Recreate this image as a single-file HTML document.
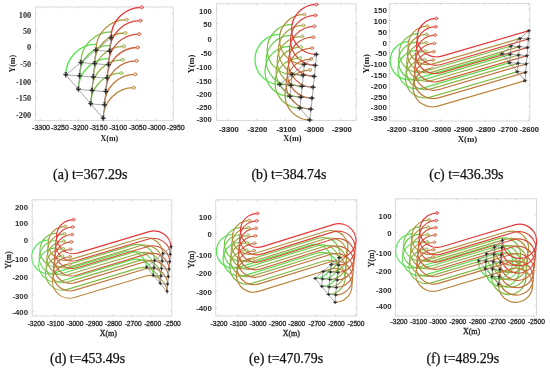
<!DOCTYPE html>
<html><head><meta charset="utf-8"><title>Formation trajectories</title>
<style>html,body{margin:0;padding:0;background:#fff;}svg{display:block;filter:blur(0.4px);}</style></head>
<body>
<svg width="550" height="370" viewBox="0 0 550 370">
<rect width="550" height="370" fill="#fff"/>
<g id="panel-a">
<clipPath id="clip-a"><rect x="33.1" y="4.5" width="142.6" height="118.6"/></clipPath>
<rect x="35.6" y="7" width="137.6" height="113.6" fill="none" stroke="#d6d6d6" stroke-width="0.9"/>
<path d="M40.2 120.6v-1.6M40.2 7v1.6M59.1 120.6v-1.6M59.1 7v1.6M78.6 120.6v-1.6M78.6 7v1.6M97.8 120.6v-1.6M97.8 7v1.6M117.3 120.6v-1.6M117.3 7v1.6M136.9 120.6v-1.6M136.9 7v1.6M155.8 120.6v-1.6M155.8 7v1.6M35.6 13.7h1.6M173.2 13.7h-1.6M35.6 30.6h1.6M173.2 30.6h-1.6M35.6 45.9h1.6M173.2 45.9h-1.6M35.6 63.6h1.6M173.2 63.6h-1.6M35.6 80.7h1.6M173.2 80.7h-1.6M35.6 97.4h1.6M173.2 97.4h-1.6M35.6 114.1h1.6M173.2 114.1h-1.6" stroke="#c4c4c4" stroke-width="0.7" fill="none"/>
<g clip-path="url(#clip-a)" fill="none" stroke-width="1.3" stroke-linecap="round">
<defs><path id="lp-a" d="M96.5 44.2A30.7 30.7 0 0 0 65.8 74.9"/><path id="pl-a" d="M0 2.5L0.6 0.8L2.3 -0.1L2.3 -0.8L0.6 -0.4L0.4 -1.8L1.1 -2.2L1.1 -2.6L0 -2.4L-1.1 -2.6L-1.1 -2.2L-0.4 -1.8L-0.6 -0.4L-2.3 -0.8L-2.3 -0.1L-0.6 0.8Z"/></defs>
<use href="#lp-a" x="0" y="0" stroke="#50e650"/>
<use href="#lp-a" x="12.5" y="14.5" stroke="#5cdb4d"/>
<use href="#lp-a" x="13.8" y="1.1" stroke="#69d14a"/>
<use href="#lp-a" x="15.1" y="-12.3" stroke="#76c648"/>
<use href="#lp-a" x="24.9" y="29" stroke="#82bc45"/>
<use href="#lp-a" x="26.2" y="15.6" stroke="#8fb242"/>
<use href="#lp-a" x="27.5" y="2.2" stroke="#9ca740"/>
<use href="#lp-a" x="28.8" y="-11.2" stroke="#a89d3d"/>
<use href="#lp-a" x="30.1" y="-24.6" stroke="#b2913b"/>
<use href="#lp-a" x="37.4" y="43.5" stroke="#b9853b"/>
<use href="#lp-a" x="38.7" y="30.1" stroke="#c0783b"/>
<use href="#lp-a" x="40" y="16.7" stroke="#c76b3b"/>
<use href="#lp-a" x="41.3" y="3.3" stroke="#ce5f3a"/>
<use href="#lp-a" x="42.6" y="-10.1" stroke="#d5523a"/>
<use href="#lp-a" x="43.9" y="-23.5" stroke="#dc453a"/>
<use href="#lp-a" x="45.2" y="-36.9" stroke="#e3393a"/>
<circle cx="121.4" cy="73.2" r="1.6" stroke="#82bc45" stroke-width="0.75" fill="#fff"/>
<circle cx="121.4" cy="73.2" r="1.6" stroke="none" fill="#82bc45" fill-opacity="0.28"/>
<circle cx="122.7" cy="59.8" r="1.6" stroke="#8fb242" stroke-width="0.75" fill="#fff"/>
<circle cx="122.7" cy="59.8" r="1.6" stroke="none" fill="#8fb242" fill-opacity="0.28"/>
<circle cx="124" cy="46.4" r="1.6" stroke="#9ca740" stroke-width="0.75" fill="#fff"/>
<circle cx="124" cy="46.4" r="1.6" stroke="none" fill="#9ca740" fill-opacity="0.28"/>
<circle cx="125.3" cy="33" r="1.6" stroke="#a89d3d" stroke-width="0.75" fill="#fff"/>
<circle cx="125.3" cy="33" r="1.6" stroke="none" fill="#a89d3d" fill-opacity="0.28"/>
<circle cx="126.6" cy="19.6" r="1.6" stroke="#b2913b" stroke-width="0.75" fill="#fff"/>
<circle cx="126.6" cy="19.6" r="1.6" stroke="none" fill="#b2913b" fill-opacity="0.28"/>
<circle cx="133.9" cy="87.7" r="1.6" stroke="#b9853b" stroke-width="0.75" fill="#fff"/>
<circle cx="133.9" cy="87.7" r="1.6" stroke="none" fill="#b9853b" fill-opacity="0.28"/>
<circle cx="135.2" cy="74.3" r="1.6" stroke="#c0783b" stroke-width="0.75" fill="#fff"/>
<circle cx="135.2" cy="74.3" r="1.6" stroke="none" fill="#c0783b" fill-opacity="0.28"/>
<circle cx="136.5" cy="60.9" r="1.6" stroke="#c76b3b" stroke-width="0.75" fill="#fff"/>
<circle cx="136.5" cy="60.9" r="1.6" stroke="none" fill="#c76b3b" fill-opacity="0.28"/>
<circle cx="137.8" cy="47.5" r="1.6" stroke="#ce5f3a" stroke-width="0.75" fill="#fff"/>
<circle cx="137.8" cy="47.5" r="1.6" stroke="none" fill="#ce5f3a" fill-opacity="0.28"/>
<circle cx="139.1" cy="34.1" r="1.6" stroke="#d5523a" stroke-width="0.75" fill="#fff"/>
<circle cx="139.1" cy="34.1" r="1.6" stroke="none" fill="#d5523a" fill-opacity="0.28"/>
<circle cx="140.4" cy="20.7" r="1.6" stroke="#dc453a" stroke-width="0.75" fill="#fff"/>
<circle cx="140.4" cy="20.7" r="1.6" stroke="none" fill="#dc453a" fill-opacity="0.28"/>
<circle cx="141.7" cy="7.3" r="1.6" stroke="#e3393a" stroke-width="0.75" fill="#fff"/>
<circle cx="141.7" cy="7.3" r="1.6" stroke="none" fill="#e3393a" fill-opacity="0.28"/>
<path d="M65.8 74.9L79.6 76M65.8 74.9L80.9 62.6M65.8 74.9L78.3 89.4M78.3 89.4L92 90.5M78.3 89.4L79.6 76M78.3 89.4L90.7 103.9M79.6 76L93.3 77.1M79.6 76L80.9 62.6M80.9 62.6L94.6 63.7M80.9 62.6L95.9 50.3M90.7 103.9L104.5 105M90.7 103.9L92 90.5M90.7 103.9L103.2 118.4M92 90.5L105.8 91.6M92 90.5L93.3 77.1M93.3 77.1L107.1 78.2M93.3 77.1L94.6 63.7M94.6 63.7L108.4 64.8M94.6 63.7L95.9 50.3M95.9 50.3L109.7 51.4M95.9 50.3L111 38M103.2 118.4L104.5 105M104.5 105L105.8 91.6M105.8 91.6L107.1 78.2M107.1 78.2L108.4 64.8M108.4 64.8L109.7 51.4M109.7 51.4L111 38" stroke="#888" stroke-width="0.75"/>
<use href="#pl-a" transform="translate(65.8,74.9) rotate(0)" fill="#222" stroke="#222" stroke-width="0.35" stroke-linejoin="round"/>
<use href="#pl-a" transform="translate(78.3,89.4) rotate(0)" fill="#222" stroke="#222" stroke-width="0.35" stroke-linejoin="round"/>
<use href="#pl-a" transform="translate(79.6,76) rotate(0)" fill="#222" stroke="#222" stroke-width="0.35" stroke-linejoin="round"/>
<use href="#pl-a" transform="translate(80.9,62.6) rotate(0)" fill="#222" stroke="#222" stroke-width="0.35" stroke-linejoin="round"/>
<use href="#pl-a" transform="translate(90.7,103.9) rotate(0)" fill="#222" stroke="#222" stroke-width="0.35" stroke-linejoin="round"/>
<use href="#pl-a" transform="translate(92,90.5) rotate(0)" fill="#222" stroke="#222" stroke-width="0.35" stroke-linejoin="round"/>
<use href="#pl-a" transform="translate(93.3,77.1) rotate(0)" fill="#222" stroke="#222" stroke-width="0.35" stroke-linejoin="round"/>
<use href="#pl-a" transform="translate(94.6,63.7) rotate(0)" fill="#222" stroke="#222" stroke-width="0.35" stroke-linejoin="round"/>
<use href="#pl-a" transform="translate(95.9,50.3) rotate(0)" fill="#222" stroke="#222" stroke-width="0.35" stroke-linejoin="round"/>
<use href="#pl-a" transform="translate(103.2,118.4) rotate(0)" fill="#222" stroke="#222" stroke-width="0.35" stroke-linejoin="round"/>
<use href="#pl-a" transform="translate(104.5,105) rotate(0)" fill="#222" stroke="#222" stroke-width="0.35" stroke-linejoin="round"/>
<use href="#pl-a" transform="translate(105.8,91.6) rotate(0)" fill="#222" stroke="#222" stroke-width="0.35" stroke-linejoin="round"/>
<use href="#pl-a" transform="translate(107.1,78.2) rotate(0)" fill="#222" stroke="#222" stroke-width="0.35" stroke-linejoin="round"/>
<use href="#pl-a" transform="translate(108.4,64.8) rotate(0)" fill="#222" stroke="#222" stroke-width="0.35" stroke-linejoin="round"/>
<use href="#pl-a" transform="translate(109.7,51.4) rotate(0)" fill="#222" stroke="#222" stroke-width="0.35" stroke-linejoin="round"/>
<use href="#pl-a" transform="translate(111,38) rotate(0)" fill="#222" stroke="#222" stroke-width="0.35" stroke-linejoin="round"/>
</g>
<g font-family="'Liberation Sans', sans-serif" font-size="7" font-weight="normal" fill="#2a2a2a" stroke="#2a2a2a" stroke-width="0.3" text-anchor="middle">
<text x="41" y="130.1">-3300</text>
<text x="59.9" y="130.1">-3250</text>
<text x="79.4" y="130.1">-3200</text>
<text x="98.6" y="130.1">-3150</text>
<text x="118.1" y="130.1">-3100</text>
<text x="137.7" y="130.1">-3050</text>
<text x="156.6" y="130.1">-3000</text>
<text x="175.8" y="130.1">-2950</text>
</g>
<g font-family="'Liberation Serif', serif" font-weight="bold" font-size="8.3" fill="#2a2a2a" text-anchor="end">
<text x="31.2" y="17.5">100</text>
<text x="31.2" y="34.4">50</text>
<text x="31.2" y="49.7">0</text>
<text x="31.2" y="67.4">-50</text>
<text x="31.2" y="84.5">-100</text>
<text x="31.2" y="101.2">-150</text>
<text x="31.2" y="117.9">-200</text>
</g>
<text x="109.4" y="141.3" font-family="'Liberation Serif', serif" font-weight="bold" font-size="8" fill="#222" stroke="#222" stroke-width="0.0" text-anchor="middle">X(m)</text>
<text transform="translate(14.8,63.7) rotate(-90)" font-family="'Liberation Serif', serif" font-weight="bold" font-size="8" fill="#222" stroke="#222" stroke-width="0.0" text-anchor="middle">Y(m)</text>
<text x="90.2" y="179.4" font-family="'Liberation Serif', serif" font-size="13.9" fill="#111" stroke="#111" stroke-width="0.25" text-anchor="middle">(a) t=367.29s</text>
</g>
<g id="panel-b">
<clipPath id="clip-b"><rect x="214.1" y="1.3" width="144.6" height="121.7"/></clipPath>
<rect x="216.6" y="3.8" width="139.6" height="116.7" fill="none" stroke="#d6d6d6" stroke-width="0.9"/>
<path d="M228.1 120.5v-1.6M228.1 3.8v1.6M256.6 120.5v-1.6M256.6 3.8v1.6M285.5 120.5v-1.6M285.5 3.8v1.6M313.4 120.5v-1.6M313.4 3.8v1.6M341.1 120.5v-1.6M341.1 3.8v1.6M216.6 9.9h1.6M356.2 9.9h-1.6M216.6 23.6h1.6M356.2 23.6h-1.6M216.6 37.9h1.6M356.2 37.9h-1.6M216.6 51.7h1.6M356.2 51.7h-1.6M216.6 65.8h1.6M356.2 65.8h-1.6M216.6 79.7h1.6M356.2 79.7h-1.6M216.6 93.1h1.6M356.2 93.1h-1.6M216.6 105.9h1.6M356.2 105.9h-1.6M216.6 118.6h1.6M356.2 118.6h-1.6" stroke="#c4c4c4" stroke-width="0.7" fill="none"/>
<g clip-path="url(#clip-b)" fill="none" stroke-width="1.25" stroke-linecap="round">
<defs><path id="lp-b" d="M280 34.4A25 25 0 0 0 255 59.4A25 25 0 0 0 280 84.4"/><path id="pl-b" d="M0 2.3L0.6 0.7L2.1 -0.1L2.1 -0.7L0.5 -0.4L0.4 -1.6L1 -2L1 -2.4L0 -2.2L-1 -2.4L-1 -2L-0.4 -1.6L-0.5 -0.4L-2.1 -0.7L-2.1 -0.1L-0.6 0.7Z"/></defs>
<use href="#lp-b" x="0" y="0" stroke="#50e650"/>
<use href="#lp-b" x="10" y="11.9" stroke="#5cdb4d"/>
<use href="#lp-b" x="11.1" y="0.9" stroke="#69d14a"/>
<use href="#lp-b" x="12.2" y="-10" stroke="#76c648"/>
<use href="#lp-b" x="20" y="23.7" stroke="#82bc45"/>
<use href="#lp-b" x="21.1" y="12.8" stroke="#8fb242"/>
<use href="#lp-b" x="22.2" y="1.9" stroke="#9ca740"/>
<use href="#lp-b" x="23.3" y="-9.1" stroke="#a89d3d"/>
<use href="#lp-b" x="24.4" y="-20" stroke="#b2913b"/>
<use href="#lp-b" x="30" y="35.6" stroke="#b9853b"/>
<use href="#lp-b" x="31.1" y="24.6" stroke="#c0783b"/>
<use href="#lp-b" x="32.2" y="13.7" stroke="#c76b3b"/>
<use href="#lp-b" x="33.3" y="2.8" stroke="#ce5f3a"/>
<use href="#lp-b" x="34.4" y="-8.1" stroke="#d5523a"/>
<use href="#lp-b" x="35.5" y="-19.1" stroke="#dc453a"/>
<use href="#lp-b" x="36.6" y="-30" stroke="#e3393a"/>
<circle cx="300" cy="58.1" r="1.5" stroke="#82bc45" stroke-width="0.75" fill="#fff"/>
<circle cx="300" cy="58.1" r="1.5" stroke="none" fill="#82bc45" fill-opacity="0.28"/>
<circle cx="301.1" cy="47.2" r="1.5" stroke="#8fb242" stroke-width="0.75" fill="#fff"/>
<circle cx="301.1" cy="47.2" r="1.5" stroke="none" fill="#8fb242" fill-opacity="0.28"/>
<circle cx="302.2" cy="36.3" r="1.5" stroke="#9ca740" stroke-width="0.75" fill="#fff"/>
<circle cx="302.2" cy="36.3" r="1.5" stroke="none" fill="#9ca740" fill-opacity="0.28"/>
<circle cx="303.3" cy="25.3" r="1.5" stroke="#a89d3d" stroke-width="0.75" fill="#fff"/>
<circle cx="303.3" cy="25.3" r="1.5" stroke="none" fill="#a89d3d" fill-opacity="0.28"/>
<circle cx="304.4" cy="14.4" r="1.5" stroke="#b2913b" stroke-width="0.75" fill="#fff"/>
<circle cx="304.4" cy="14.4" r="1.5" stroke="none" fill="#b2913b" fill-opacity="0.28"/>
<circle cx="310" cy="70" r="1.5" stroke="#b9853b" stroke-width="0.75" fill="#fff"/>
<circle cx="310" cy="70" r="1.5" stroke="none" fill="#b9853b" fill-opacity="0.28"/>
<circle cx="311.1" cy="59" r="1.5" stroke="#c0783b" stroke-width="0.75" fill="#fff"/>
<circle cx="311.1" cy="59" r="1.5" stroke="none" fill="#c0783b" fill-opacity="0.28"/>
<circle cx="312.2" cy="48.1" r="1.5" stroke="#c76b3b" stroke-width="0.75" fill="#fff"/>
<circle cx="312.2" cy="48.1" r="1.5" stroke="none" fill="#c76b3b" fill-opacity="0.28"/>
<circle cx="313.3" cy="37.2" r="1.5" stroke="#ce5f3a" stroke-width="0.75" fill="#fff"/>
<circle cx="313.3" cy="37.2" r="1.5" stroke="none" fill="#ce5f3a" fill-opacity="0.28"/>
<circle cx="314.4" cy="26.3" r="1.5" stroke="#d5523a" stroke-width="0.75" fill="#fff"/>
<circle cx="314.4" cy="26.3" r="1.5" stroke="none" fill="#d5523a" fill-opacity="0.28"/>
<circle cx="315.5" cy="15.3" r="1.5" stroke="#dc453a" stroke-width="0.75" fill="#fff"/>
<circle cx="315.5" cy="15.3" r="1.5" stroke="none" fill="#dc453a" fill-opacity="0.28"/>
<circle cx="316.6" cy="4.4" r="1.5" stroke="#e3393a" stroke-width="0.75" fill="#fff"/>
<circle cx="316.6" cy="4.4" r="1.5" stroke="none" fill="#e3393a" fill-opacity="0.28"/>
<path d="M280 84.4L291.1 85.3M280 84.4L292.2 74.4M280 84.4L290 96.3M290 96.3L301.1 97.2M290 96.3L291.1 85.3M290 96.3L300 108.1M291.1 85.3L302.2 86.3M291.1 85.3L292.2 74.4M292.2 74.4L303.3 75.3M292.2 74.4L304.4 64.4M300 108.1L311.1 109.1M300 108.1L301.1 97.2M300 108.1L310 120M301.1 97.2L312.2 98.1M301.1 97.2L302.2 86.3M302.2 86.3L313.3 87.2M302.2 86.3L303.3 75.3M303.3 75.3L314.4 76.3M303.3 75.3L304.4 64.4M304.4 64.4L315.5 65.3M304.4 64.4L316.6 54.4M310 120L311.1 109.1M311.1 109.1L312.2 98.1M312.2 98.1L313.3 87.2M313.3 87.2L314.4 76.3M314.4 76.3L315.5 65.3M315.5 65.3L316.6 54.4" stroke="#888" stroke-width="0.75"/>
<use href="#pl-b" transform="translate(280,84.4) rotate(-90)" fill="#222" stroke="#222" stroke-width="0.35" stroke-linejoin="round"/>
<use href="#pl-b" transform="translate(290,96.3) rotate(-90)" fill="#222" stroke="#222" stroke-width="0.35" stroke-linejoin="round"/>
<use href="#pl-b" transform="translate(291.1,85.3) rotate(-90)" fill="#222" stroke="#222" stroke-width="0.35" stroke-linejoin="round"/>
<use href="#pl-b" transform="translate(292.2,74.4) rotate(-90)" fill="#222" stroke="#222" stroke-width="0.35" stroke-linejoin="round"/>
<use href="#pl-b" transform="translate(300,108.1) rotate(-90)" fill="#222" stroke="#222" stroke-width="0.35" stroke-linejoin="round"/>
<use href="#pl-b" transform="translate(301.1,97.2) rotate(-90)" fill="#222" stroke="#222" stroke-width="0.35" stroke-linejoin="round"/>
<use href="#pl-b" transform="translate(302.2,86.3) rotate(-90)" fill="#222" stroke="#222" stroke-width="0.35" stroke-linejoin="round"/>
<use href="#pl-b" transform="translate(303.3,75.3) rotate(-90)" fill="#222" stroke="#222" stroke-width="0.35" stroke-linejoin="round"/>
<use href="#pl-b" transform="translate(304.4,64.4) rotate(-90)" fill="#222" stroke="#222" stroke-width="0.35" stroke-linejoin="round"/>
<use href="#pl-b" transform="translate(310,120) rotate(-90)" fill="#222" stroke="#222" stroke-width="0.35" stroke-linejoin="round"/>
<use href="#pl-b" transform="translate(311.1,109.1) rotate(-90)" fill="#222" stroke="#222" stroke-width="0.35" stroke-linejoin="round"/>
<use href="#pl-b" transform="translate(312.2,98.1) rotate(-90)" fill="#222" stroke="#222" stroke-width="0.35" stroke-linejoin="round"/>
<use href="#pl-b" transform="translate(313.3,87.2) rotate(-90)" fill="#222" stroke="#222" stroke-width="0.35" stroke-linejoin="round"/>
<use href="#pl-b" transform="translate(314.4,76.3) rotate(-90)" fill="#222" stroke="#222" stroke-width="0.35" stroke-linejoin="round"/>
<use href="#pl-b" transform="translate(315.5,65.3) rotate(-90)" fill="#222" stroke="#222" stroke-width="0.35" stroke-linejoin="round"/>
<use href="#pl-b" transform="translate(316.6,54.4) rotate(-90)" fill="#222" stroke="#222" stroke-width="0.35" stroke-linejoin="round"/>
</g>
<g font-family="'Liberation Sans', sans-serif" font-size="7.7" font-weight="bold" fill="#2a2a2a" stroke="#2a2a2a" stroke-width="0.1" text-anchor="middle">
<text x="228.9" y="131.5">-3300</text>
<text x="257.4" y="131.5">-3200</text>
<text x="286.3" y="131.5">-3100</text>
<text x="314.2" y="131.5">-3000</text>
<text x="341.9" y="131.5">-2900</text>
</g>
<g font-family="'Liberation Sans', sans-serif" font-weight="bold" font-size="7.7" fill="#2a2a2a" text-anchor="end">
<text x="211.8" y="13.7">100</text>
<text x="211.8" y="27.4">50</text>
<text x="211.8" y="41.7">0</text>
<text x="211.8" y="55.5">-50</text>
<text x="211.8" y="69.6">-100</text>
<text x="211.8" y="83.5">-150</text>
<text x="211.8" y="96.9">-200</text>
<text x="211.8" y="109.7">-250</text>
<text x="211.8" y="122.4">-300</text>
</g>
<text x="292.4" y="140.5" font-family="'Liberation Serif', serif" font-weight="bold" font-size="8.3" fill="#222" stroke="#222" stroke-width="0.0" text-anchor="middle">X(m)</text>
<text transform="translate(194.1,64) rotate(-90)" font-family="'Liberation Serif', serif" font-weight="bold" font-size="8.3" fill="#222" stroke="#222" stroke-width="0.0" text-anchor="middle">Y(m)</text>
<text x="288.9" y="179.4" font-family="'Liberation Serif', serif" font-size="13.9" fill="#111" stroke="#111" stroke-width="0.25" text-anchor="middle">(b) t=384.74s</text>
</g>
<g id="panel-c">
<clipPath id="clip-c"><rect x="387.1" y="1.1" width="145.2" height="122.4"/></clipPath>
<rect x="389.6" y="3.6" width="140.2" height="117.4" fill="none" stroke="#d6d6d6" stroke-width="0.9"/>
<path d="M395.9 121v-1.6M395.9 3.6v1.6M418.2 121v-1.6M418.2 3.6v1.6M440.8 121v-1.6M440.8 3.6v1.6M462.6 121v-1.6M462.6 3.6v1.6M485 121v-1.6M485 3.6v1.6M507.2 121v-1.6M507.2 3.6v1.6M528.5 121v-1.6M528.5 3.6v1.6M389.6 9h1.6M529.8 9h-1.6M389.6 20.5h1.6M529.8 20.5h-1.6M389.6 31.3h1.6M529.8 31.3h-1.6M389.6 42h1.6M529.8 42h-1.6M389.6 52.3h1.6M529.8 52.3h-1.6M389.6 63h1.6M529.8 63h-1.6M389.6 73.6h1.6M529.8 73.6h-1.6M389.6 85h1.6M529.8 85h-1.6M389.6 96h1.6M529.8 96h-1.6M389.6 106.2h1.6M529.8 106.2h-1.6M389.6 116.8h1.6M529.8 116.8h-1.6" stroke="#c4c4c4" stroke-width="0.7" fill="none"/>
<g clip-path="url(#clip-c)" fill="none" stroke-width="1.2" stroke-linecap="round">
<defs><path id="lp-c" d="M409.4 41.4A19.3 19.3 0 0 0 391.8 52.7A19.3 19.3 0 0 0 394.8 73.3A19.3 19.3 0 0 0 414.8 79.2L502.1 53.7"/><path id="pl-c" d="M0 1.7L0.4 0.5L1.6 -0.1L1.6 -0.5L0.4 -0.3L0.3 -1.2L0.8 -1.5L0.8 -1.8L0 -1.7L-0.8 -1.8L-0.8 -1.5L-0.3 -1.2L-0.4 -0.3L-1.6 -0.5L-1.6 -0.1L-0.4 0.5Z"/></defs>
<use href="#lp-c" x="0" y="0" stroke="#50e650"/>
<use href="#lp-c" x="7.7" y="9" stroke="#5cdb4d"/>
<use href="#lp-c" x="8.3" y="0.7" stroke="#69d14a"/>
<use href="#lp-c" x="9" y="-7.7" stroke="#76c648"/>
<use href="#lp-c" x="15.3" y="18" stroke="#82bc45"/>
<use href="#lp-c" x="16" y="9.7" stroke="#8fb242"/>
<use href="#lp-c" x="16.7" y="1.3" stroke="#9ca740"/>
<use href="#lp-c" x="17.3" y="-7" stroke="#a89d3d"/>
<use href="#lp-c" x="18" y="-15.3" stroke="#b2913b"/>
<use href="#lp-c" x="23" y="27" stroke="#b9853b"/>
<use href="#lp-c" x="23.7" y="18.7" stroke="#c0783b"/>
<use href="#lp-c" x="24.3" y="10.3" stroke="#c76b3b"/>
<use href="#lp-c" x="25" y="2" stroke="#ce5f3a"/>
<use href="#lp-c" x="25.7" y="-6.3" stroke="#d5523a"/>
<use href="#lp-c" x="26.3" y="-14.7" stroke="#dc453a"/>
<use href="#lp-c" x="27" y="-23" stroke="#e3393a"/>
<circle cx="424.7" cy="59.4" r="1.4" stroke="#82bc45" stroke-width="0.75" fill="#fff"/>
<circle cx="424.7" cy="59.4" r="1.4" stroke="none" fill="#82bc45" fill-opacity="0.28"/>
<circle cx="425.4" cy="51.1" r="1.4" stroke="#8fb242" stroke-width="0.75" fill="#fff"/>
<circle cx="425.4" cy="51.1" r="1.4" stroke="none" fill="#8fb242" fill-opacity="0.28"/>
<circle cx="426.1" cy="42.7" r="1.4" stroke="#9ca740" stroke-width="0.75" fill="#fff"/>
<circle cx="426.1" cy="42.7" r="1.4" stroke="none" fill="#9ca740" fill-opacity="0.28"/>
<circle cx="426.7" cy="34.4" r="1.4" stroke="#a89d3d" stroke-width="0.75" fill="#fff"/>
<circle cx="426.7" cy="34.4" r="1.4" stroke="none" fill="#a89d3d" fill-opacity="0.28"/>
<circle cx="427.4" cy="26.1" r="1.4" stroke="#b2913b" stroke-width="0.75" fill="#fff"/>
<circle cx="427.4" cy="26.1" r="1.4" stroke="none" fill="#b2913b" fill-opacity="0.28"/>
<circle cx="432.4" cy="68.4" r="1.4" stroke="#b9853b" stroke-width="0.75" fill="#fff"/>
<circle cx="432.4" cy="68.4" r="1.4" stroke="none" fill="#b9853b" fill-opacity="0.28"/>
<circle cx="433" cy="60.1" r="1.4" stroke="#c0783b" stroke-width="0.75" fill="#fff"/>
<circle cx="433" cy="60.1" r="1.4" stroke="none" fill="#c0783b" fill-opacity="0.28"/>
<circle cx="433.7" cy="51.7" r="1.4" stroke="#c76b3b" stroke-width="0.75" fill="#fff"/>
<circle cx="433.7" cy="51.7" r="1.4" stroke="none" fill="#c76b3b" fill-opacity="0.28"/>
<circle cx="434.4" cy="43.4" r="1.4" stroke="#ce5f3a" stroke-width="0.75" fill="#fff"/>
<circle cx="434.4" cy="43.4" r="1.4" stroke="none" fill="#ce5f3a" fill-opacity="0.28"/>
<circle cx="435.1" cy="35.1" r="1.4" stroke="#d5523a" stroke-width="0.75" fill="#fff"/>
<circle cx="435.1" cy="35.1" r="1.4" stroke="none" fill="#d5523a" fill-opacity="0.28"/>
<circle cx="435.7" cy="26.8" r="1.4" stroke="#dc453a" stroke-width="0.75" fill="#fff"/>
<circle cx="435.7" cy="26.8" r="1.4" stroke="none" fill="#dc453a" fill-opacity="0.28"/>
<circle cx="436.4" cy="18.4" r="1.4" stroke="#e3393a" stroke-width="0.75" fill="#fff"/>
<circle cx="436.4" cy="18.4" r="1.4" stroke="none" fill="#e3393a" fill-opacity="0.28"/>
<path d="M502.1 53.7L510.4 54.3M502.1 53.7L511.1 46M502.1 53.7L509.7 62.7M509.7 62.7L518.1 63.3M509.7 62.7L510.4 54.3M509.7 62.7L517.4 71.7M510.4 54.3L518.7 55M510.4 54.3L511.1 46M511.1 46L519.4 46.7M511.1 46L520.1 38.4M517.4 71.7L525.7 72.3M517.4 71.7L518.1 63.3M517.4 71.7L525.1 80.7M518.1 63.3L526.4 64M518.1 63.3L518.7 55M518.7 55L527.1 55.7M518.7 55L519.4 46.7M519.4 46.7L527.7 47.4M519.4 46.7L520.1 38.4M520.1 38.4L528.4 39M520.1 38.4L529.1 30.7M525.1 80.7L525.7 72.3M525.7 72.3L526.4 64M526.4 64L527.1 55.7M527.1 55.7L527.7 47.4M527.7 47.4L528.4 39M528.4 39L529.1 30.7" stroke="#888" stroke-width="0.75"/>
<use href="#pl-c" transform="translate(502.1,53.7) rotate(-106.3)" fill="#222" stroke="#222" stroke-width="0.35" stroke-linejoin="round"/>
<use href="#pl-c" transform="translate(509.7,62.7) rotate(-106.3)" fill="#222" stroke="#222" stroke-width="0.35" stroke-linejoin="round"/>
<use href="#pl-c" transform="translate(510.4,54.3) rotate(-106.3)" fill="#222" stroke="#222" stroke-width="0.35" stroke-linejoin="round"/>
<use href="#pl-c" transform="translate(511.1,46) rotate(-106.3)" fill="#222" stroke="#222" stroke-width="0.35" stroke-linejoin="round"/>
<use href="#pl-c" transform="translate(517.4,71.7) rotate(-106.3)" fill="#222" stroke="#222" stroke-width="0.35" stroke-linejoin="round"/>
<use href="#pl-c" transform="translate(518.1,63.3) rotate(-106.3)" fill="#222" stroke="#222" stroke-width="0.35" stroke-linejoin="round"/>
<use href="#pl-c" transform="translate(518.7,55) rotate(-106.3)" fill="#222" stroke="#222" stroke-width="0.35" stroke-linejoin="round"/>
<use href="#pl-c" transform="translate(519.4,46.7) rotate(-106.3)" fill="#222" stroke="#222" stroke-width="0.35" stroke-linejoin="round"/>
<use href="#pl-c" transform="translate(520.1,38.4) rotate(-106.3)" fill="#222" stroke="#222" stroke-width="0.35" stroke-linejoin="round"/>
<use href="#pl-c" transform="translate(525.1,80.7) rotate(-106.3)" fill="#222" stroke="#222" stroke-width="0.35" stroke-linejoin="round"/>
<use href="#pl-c" transform="translate(525.7,72.3) rotate(-106.3)" fill="#222" stroke="#222" stroke-width="0.35" stroke-linejoin="round"/>
<use href="#pl-c" transform="translate(526.4,64) rotate(-106.3)" fill="#222" stroke="#222" stroke-width="0.35" stroke-linejoin="round"/>
<use href="#pl-c" transform="translate(527.1,55.7) rotate(-106.3)" fill="#222" stroke="#222" stroke-width="0.35" stroke-linejoin="round"/>
<use href="#pl-c" transform="translate(527.7,47.4) rotate(-106.3)" fill="#222" stroke="#222" stroke-width="0.35" stroke-linejoin="round"/>
<use href="#pl-c" transform="translate(528.4,39) rotate(-106.3)" fill="#222" stroke="#222" stroke-width="0.35" stroke-linejoin="round"/>
<use href="#pl-c" transform="translate(529.1,30.7) rotate(-106.3)" fill="#222" stroke="#222" stroke-width="0.35" stroke-linejoin="round"/>
</g>
<g font-family="'Liberation Sans', sans-serif" font-size="7.6" font-weight="bold" fill="#2a2a2a" stroke="#2a2a2a" stroke-width="0.1" text-anchor="middle">
<text x="396.7" y="131.9">-3200</text>
<text x="419" y="131.9">-3100</text>
<text x="441.6" y="131.9">-3000</text>
<text x="463.4" y="131.9">-2900</text>
<text x="485.8" y="131.9">-2800</text>
<text x="508" y="131.9">-2700</text>
<text x="529.3" y="131.9">-2600</text>
</g>
<g font-family="'Liberation Sans', sans-serif" font-weight="bold" font-size="8.1" fill="#2a2a2a" text-anchor="end">
<text x="387" y="12.9">150</text>
<text x="387" y="24.4">100</text>
<text x="387" y="35.2">50</text>
<text x="387" y="45.9">0</text>
<text x="387" y="56.2">-50</text>
<text x="387" y="66.9">-100</text>
<text x="387" y="77.5">-150</text>
<text x="387" y="88.9">-200</text>
<text x="387" y="99.9">-250</text>
<text x="387" y="110.1">-300</text>
<text x="387" y="120.7">-350</text>
</g>
<text x="467.5" y="141.6" font-family="'Liberation Serif', serif" font-weight="bold" font-size="8.8" fill="#222" stroke="#222" stroke-width="0.0" text-anchor="middle">X(m)</text>
<text transform="translate(369.4,63.8) rotate(-90)" font-family="'Liberation Serif', serif" font-weight="bold" font-size="8.8" fill="#222" stroke="#222" stroke-width="0.0" text-anchor="middle">Y(m)</text>
<text x="466.4" y="179.2" font-family="'Liberation Serif', serif" font-size="13.9" fill="#111" stroke="#111" stroke-width="0.25" text-anchor="middle">(c) t=436.39s</text>
</g>
<g id="panel-d">
<clipPath id="clip-d"><rect x="29.7" y="197.3" width="144.6" height="121.2"/></clipPath>
<rect x="32.2" y="199.8" width="139.6" height="116.2" fill="none" stroke="#d6d6d6" stroke-width="0.9"/>
<path d="M35.4 316v-1.6M35.4 199.8v1.6M54.8 316v-1.6M54.8 199.8v1.6M74.2 316v-1.6M74.2 199.8v1.6M93.5 316v-1.6M93.5 199.8v1.6M112.7 316v-1.6M112.7 199.8v1.6M132.4 316v-1.6M132.4 199.8v1.6M151.9 316v-1.6M151.9 199.8v1.6M32.2 205.9h1.6M171.8 205.9h-1.6M32.2 222h1.6M171.8 222h-1.6M32.2 239h1.6M171.8 239h-1.6M32.2 258.3h1.6M171.8 258.3h-1.6M32.2 276.6h1.6M171.8 276.6h-1.6M32.2 294.8h1.6M171.8 294.8h-1.6M32.2 311.6h1.6M171.8 311.6h-1.6" stroke="#c4c4c4" stroke-width="0.7" fill="none"/>
<g clip-path="url(#clip-d)" fill="none" stroke-width="1.15" stroke-linecap="round">
<defs><path id="lp-d" d="M48.8 239.8A17 17 0 0 0 33.3 249.8A17 17 0 0 0 36 268A17 17 0 0 0 53.7 273.1L124.6 251.8A17 17 0 0 1 139.3 254.2A17 17 0 0 1 146.5 267.2"/><path id="pl-d" d="M0 1.6L0.4 0.5L1.4 -0.1L1.4 -0.5L0.3 -0.3L0.3 -1.1L0.7 -1.4L0.7 -1.6L0 -1.5L-0.7 -1.6L-0.7 -1.4L-0.3 -1.1L-0.3 -0.3L-1.4 -0.5L-1.4 -0.1L-0.4 0.5Z"/></defs>
<use href="#lp-d" x="0" y="0" stroke="#50e650"/>
<use href="#lp-d" x="6.9" y="8.1" stroke="#5cdb4d"/>
<use href="#lp-d" x="7.5" y="0.7" stroke="#69d14a"/>
<use href="#lp-d" x="8.2" y="-6.7" stroke="#76c648"/>
<use href="#lp-d" x="13.7" y="16.3" stroke="#82bc45"/>
<use href="#lp-d" x="14.4" y="8.8" stroke="#8fb242"/>
<use href="#lp-d" x="15.1" y="1.4" stroke="#9ca740"/>
<use href="#lp-d" x="15.7" y="-6" stroke="#a89d3d"/>
<use href="#lp-d" x="16.4" y="-13.5" stroke="#b2913b"/>
<use href="#lp-d" x="20.6" y="24.4" stroke="#b9853b"/>
<use href="#lp-d" x="21.2" y="17" stroke="#c0783b"/>
<use href="#lp-d" x="21.9" y="9.5" stroke="#c76b3b"/>
<use href="#lp-d" x="22.6" y="2.1" stroke="#ce5f3a"/>
<use href="#lp-d" x="23.3" y="-5.3" stroke="#d5523a"/>
<use href="#lp-d" x="23.9" y="-12.8" stroke="#dc453a"/>
<use href="#lp-d" x="24.6" y="-20.2" stroke="#e3393a"/>
<circle cx="62.5" cy="256.1" r="1.4" stroke="#82bc45" stroke-width="0.75" fill="#fff"/>
<circle cx="62.5" cy="256.1" r="1.4" stroke="none" fill="#82bc45" fill-opacity="0.28"/>
<circle cx="63.2" cy="248.6" r="1.4" stroke="#8fb242" stroke-width="0.75" fill="#fff"/>
<circle cx="63.2" cy="248.6" r="1.4" stroke="none" fill="#8fb242" fill-opacity="0.28"/>
<circle cx="63.9" cy="241.2" r="1.4" stroke="#9ca740" stroke-width="0.75" fill="#fff"/>
<circle cx="63.9" cy="241.2" r="1.4" stroke="none" fill="#9ca740" fill-opacity="0.28"/>
<circle cx="64.5" cy="233.8" r="1.4" stroke="#a89d3d" stroke-width="0.75" fill="#fff"/>
<circle cx="64.5" cy="233.8" r="1.4" stroke="none" fill="#a89d3d" fill-opacity="0.28"/>
<circle cx="65.2" cy="226.3" r="1.4" stroke="#b2913b" stroke-width="0.75" fill="#fff"/>
<circle cx="65.2" cy="226.3" r="1.4" stroke="none" fill="#b2913b" fill-opacity="0.28"/>
<circle cx="69.4" cy="264.2" r="1.4" stroke="#b9853b" stroke-width="0.75" fill="#fff"/>
<circle cx="69.4" cy="264.2" r="1.4" stroke="none" fill="#b9853b" fill-opacity="0.28"/>
<circle cx="70" cy="256.8" r="1.4" stroke="#c0783b" stroke-width="0.75" fill="#fff"/>
<circle cx="70" cy="256.8" r="1.4" stroke="none" fill="#c0783b" fill-opacity="0.28"/>
<circle cx="70.7" cy="249.3" r="1.4" stroke="#c76b3b" stroke-width="0.75" fill="#fff"/>
<circle cx="70.7" cy="249.3" r="1.4" stroke="none" fill="#c76b3b" fill-opacity="0.28"/>
<circle cx="71.4" cy="241.9" r="1.4" stroke="#ce5f3a" stroke-width="0.75" fill="#fff"/>
<circle cx="71.4" cy="241.9" r="1.4" stroke="none" fill="#ce5f3a" fill-opacity="0.28"/>
<circle cx="72.1" cy="234.5" r="1.4" stroke="#d5523a" stroke-width="0.75" fill="#fff"/>
<circle cx="72.1" cy="234.5" r="1.4" stroke="none" fill="#d5523a" fill-opacity="0.28"/>
<circle cx="72.7" cy="227" r="1.4" stroke="#dc453a" stroke-width="0.75" fill="#fff"/>
<circle cx="72.7" cy="227" r="1.4" stroke="none" fill="#dc453a" fill-opacity="0.28"/>
<circle cx="73.4" cy="219.6" r="1.4" stroke="#e3393a" stroke-width="0.75" fill="#fff"/>
<circle cx="73.4" cy="219.6" r="1.4" stroke="none" fill="#e3393a" fill-opacity="0.28"/>
<path d="M146.5 267.2L154 267.9M146.5 267.2L154.7 260.5M146.5 267.2L153.3 275.4M153.3 275.4L160.9 276.1M153.3 275.4L154 267.9M153.3 275.4L160.2 283.5M154 267.9L161.5 268.6M154 267.9L154.7 260.5M154.7 260.5L162.2 261.2M154.7 260.5L162.9 253.8M160.2 283.5L167.7 284.2M160.2 283.5L160.9 276.1M160.2 283.5L167.1 291.6M160.9 276.1L168.4 276.8M160.9 276.1L161.5 268.6M161.5 268.6L169.1 269.3M161.5 268.6L162.2 261.2M162.2 261.2L169.7 261.9M162.2 261.2L162.9 253.8M162.9 253.8L170.4 254.5M162.9 253.8L171.1 247M167.1 291.6L167.7 284.2M167.7 284.2L168.4 276.8M168.4 276.8L169.1 269.3M169.1 269.3L169.7 261.9M169.7 261.9L170.4 254.5M170.4 254.5L171.1 247" stroke="#888" stroke-width="0.75"/>
<use href="#pl-d" transform="translate(146.5,267.2) rotate(-2.9)" fill="#222" stroke="#222" stroke-width="0.35" stroke-linejoin="round"/>
<use href="#pl-d" transform="translate(153.3,275.4) rotate(-2.9)" fill="#222" stroke="#222" stroke-width="0.35" stroke-linejoin="round"/>
<use href="#pl-d" transform="translate(154,267.9) rotate(-2.9)" fill="#222" stroke="#222" stroke-width="0.35" stroke-linejoin="round"/>
<use href="#pl-d" transform="translate(154.7,260.5) rotate(-2.9)" fill="#222" stroke="#222" stroke-width="0.35" stroke-linejoin="round"/>
<use href="#pl-d" transform="translate(160.2,283.5) rotate(-2.9)" fill="#222" stroke="#222" stroke-width="0.35" stroke-linejoin="round"/>
<use href="#pl-d" transform="translate(160.9,276.1) rotate(-2.9)" fill="#222" stroke="#222" stroke-width="0.35" stroke-linejoin="round"/>
<use href="#pl-d" transform="translate(161.5,268.6) rotate(-2.9)" fill="#222" stroke="#222" stroke-width="0.35" stroke-linejoin="round"/>
<use href="#pl-d" transform="translate(162.2,261.2) rotate(-2.9)" fill="#222" stroke="#222" stroke-width="0.35" stroke-linejoin="round"/>
<use href="#pl-d" transform="translate(162.9,253.8) rotate(-2.9)" fill="#222" stroke="#222" stroke-width="0.35" stroke-linejoin="round"/>
<use href="#pl-d" transform="translate(167.1,291.6) rotate(-2.9)" fill="#222" stroke="#222" stroke-width="0.35" stroke-linejoin="round"/>
<use href="#pl-d" transform="translate(167.7,284.2) rotate(-2.9)" fill="#222" stroke="#222" stroke-width="0.35" stroke-linejoin="round"/>
<use href="#pl-d" transform="translate(168.4,276.8) rotate(-2.9)" fill="#222" stroke="#222" stroke-width="0.35" stroke-linejoin="round"/>
<use href="#pl-d" transform="translate(169.1,269.3) rotate(-2.9)" fill="#222" stroke="#222" stroke-width="0.35" stroke-linejoin="round"/>
<use href="#pl-d" transform="translate(169.7,261.9) rotate(-2.9)" fill="#222" stroke="#222" stroke-width="0.35" stroke-linejoin="round"/>
<use href="#pl-d" transform="translate(170.4,254.5) rotate(-2.9)" fill="#222" stroke="#222" stroke-width="0.35" stroke-linejoin="round"/>
<use href="#pl-d" transform="translate(171.1,247) rotate(-2.9)" fill="#222" stroke="#222" stroke-width="0.35" stroke-linejoin="round"/>
</g>
<g font-family="'Liberation Sans', sans-serif" font-size="6.7" font-weight="normal" fill="#2a2a2a" stroke="#2a2a2a" stroke-width="0.3" text-anchor="middle">
<text x="36.2" y="325.9">-3200</text>
<text x="55.6" y="325.9">-3100</text>
<text x="75" y="325.9">-3000</text>
<text x="94.3" y="325.9">-2900</text>
<text x="113.5" y="325.9">-2800</text>
<text x="133.2" y="325.9">-2700</text>
<text x="152.7" y="325.9">-2600</text>
<text x="172.3" y="325.9">-2500</text>
</g>
<g font-family="'Liberation Sans', sans-serif" font-weight="bold" font-size="7.8" fill="#2a2a2a" text-anchor="end">
<text x="28" y="209.7">200</text>
<text x="28" y="225.8">100</text>
<text x="28" y="242.8">0</text>
<text x="28" y="262.1">-100</text>
<text x="28" y="280.4">-200</text>
<text x="28" y="298.6">-300</text>
<text x="28" y="315.4">-400</text>
</g>
<text x="108.3" y="335.6" font-family="'Liberation Serif', serif" font-weight="normal" font-size="8" fill="#222" stroke="#222" stroke-width="0.3" text-anchor="middle">X(m)</text>
<text transform="translate(11.1,260) rotate(-90)" font-family="'Liberation Serif', serif" font-weight="normal" font-size="8" fill="#222" stroke="#222" stroke-width="0.3" text-anchor="middle">Y(m)</text>
<text x="87.6" y="363.3" font-family="'Liberation Serif', serif" font-size="13.9" fill="#111" stroke="#111" stroke-width="0.25" text-anchor="middle">(d) t=453.49s</text>
</g>
<g id="panel-e">
<clipPath id="clip-e"><rect x="213.2" y="197.3" width="146.1" height="121.2"/></clipPath>
<rect x="215.7" y="199.8" width="141.1" height="116.2" fill="none" stroke="#d6d6d6" stroke-width="0.9"/>
<path d="M218.2 316v-1.6M218.2 199.8v1.6M237.7 316v-1.6M237.7 199.8v1.6M257.2 316v-1.6M257.2 199.8v1.6M276.8 316v-1.6M276.8 199.8v1.6M296 316v-1.6M296 199.8v1.6M316.2 316v-1.6M316.2 199.8v1.6M335.5 316v-1.6M335.5 199.8v1.6M355.2 316v-1.6M355.2 199.8v1.6M215.7 216.2h1.6M356.8 216.2h-1.6M215.7 233.3h1.6M356.8 233.3h-1.6M215.7 253.8h1.6M356.8 253.8h-1.6M215.7 272.2h1.6M356.8 272.2h-1.6M215.7 291h1.6M356.8 291h-1.6M215.7 307.6h1.6M356.8 307.6h-1.6" stroke="#c4c4c4" stroke-width="0.7" fill="none"/>
<g clip-path="url(#clip-e)" fill="none" stroke-width="1.15" stroke-linecap="round">
<defs><path id="lp-e" d="M233.4 234.2A17 17 0 0 0 217.9 244.2A17 17 0 0 0 220.7 262.5A17 17 0 0 0 238.5 267.4L309.9 245.2A17 17 0 0 1 327.7 250.1A17 17 0 0 1 330.5 268.4A17 17 0 0 1 315 278.4"/><path id="pl-e" d="M0 1.6L0.4 0.5L1.4 -0.1L1.4 -0.5L0.3 -0.3L0.3 -1.1L0.7 -1.4L0.7 -1.6L0 -1.5L-0.7 -1.6L-0.7 -1.4L-0.3 -1.1L-0.3 -0.3L-1.4 -0.5L-1.4 -0.1L-0.4 0.5Z"/></defs>
<use href="#lp-e" x="0" y="0" stroke="#50e650"/>
<use href="#lp-e" x="6.7" y="8" stroke="#5cdb4d"/>
<use href="#lp-e" x="7.3" y="0.5" stroke="#69d14a"/>
<use href="#lp-e" x="8" y="-6.9" stroke="#76c648"/>
<use href="#lp-e" x="13.3" y="16" stroke="#82bc45"/>
<use href="#lp-e" x="14" y="8.5" stroke="#8fb242"/>
<use href="#lp-e" x="14.7" y="1.1" stroke="#9ca740"/>
<use href="#lp-e" x="15.3" y="-6.4" stroke="#a89d3d"/>
<use href="#lp-e" x="16" y="-13.9" stroke="#b2913b"/>
<use href="#lp-e" x="20" y="24" stroke="#b9853b"/>
<use href="#lp-e" x="20.7" y="16.5" stroke="#c0783b"/>
<use href="#lp-e" x="21.3" y="9.1" stroke="#c76b3b"/>
<use href="#lp-e" x="22" y="1.6" stroke="#ce5f3a"/>
<use href="#lp-e" x="22.7" y="-5.9" stroke="#d5523a"/>
<use href="#lp-e" x="23.3" y="-13.3" stroke="#dc453a"/>
<use href="#lp-e" x="24" y="-20.8" stroke="#e3393a"/>
<circle cx="246.7" cy="250.2" r="1.4" stroke="#82bc45" stroke-width="0.75" fill="#fff"/>
<circle cx="246.7" cy="250.2" r="1.4" stroke="none" fill="#82bc45" fill-opacity="0.28"/>
<circle cx="247.4" cy="242.7" r="1.4" stroke="#8fb242" stroke-width="0.75" fill="#fff"/>
<circle cx="247.4" cy="242.7" r="1.4" stroke="none" fill="#8fb242" fill-opacity="0.28"/>
<circle cx="248.1" cy="235.3" r="1.4" stroke="#9ca740" stroke-width="0.75" fill="#fff"/>
<circle cx="248.1" cy="235.3" r="1.4" stroke="none" fill="#9ca740" fill-opacity="0.28"/>
<circle cx="248.7" cy="227.8" r="1.4" stroke="#a89d3d" stroke-width="0.75" fill="#fff"/>
<circle cx="248.7" cy="227.8" r="1.4" stroke="none" fill="#a89d3d" fill-opacity="0.28"/>
<circle cx="249.4" cy="220.3" r="1.4" stroke="#b2913b" stroke-width="0.75" fill="#fff"/>
<circle cx="249.4" cy="220.3" r="1.4" stroke="none" fill="#b2913b" fill-opacity="0.28"/>
<circle cx="253.4" cy="258.2" r="1.4" stroke="#b9853b" stroke-width="0.75" fill="#fff"/>
<circle cx="253.4" cy="258.2" r="1.4" stroke="none" fill="#b9853b" fill-opacity="0.28"/>
<circle cx="254.1" cy="250.7" r="1.4" stroke="#c0783b" stroke-width="0.75" fill="#fff"/>
<circle cx="254.1" cy="250.7" r="1.4" stroke="none" fill="#c0783b" fill-opacity="0.28"/>
<circle cx="254.7" cy="243.3" r="1.4" stroke="#c76b3b" stroke-width="0.75" fill="#fff"/>
<circle cx="254.7" cy="243.3" r="1.4" stroke="none" fill="#c76b3b" fill-opacity="0.28"/>
<circle cx="255.4" cy="235.8" r="1.4" stroke="#ce5f3a" stroke-width="0.75" fill="#fff"/>
<circle cx="255.4" cy="235.8" r="1.4" stroke="none" fill="#ce5f3a" fill-opacity="0.28"/>
<circle cx="256.1" cy="228.3" r="1.4" stroke="#d5523a" stroke-width="0.75" fill="#fff"/>
<circle cx="256.1" cy="228.3" r="1.4" stroke="none" fill="#d5523a" fill-opacity="0.28"/>
<circle cx="256.7" cy="220.8" r="1.4" stroke="#dc453a" stroke-width="0.75" fill="#fff"/>
<circle cx="256.7" cy="220.8" r="1.4" stroke="none" fill="#dc453a" fill-opacity="0.28"/>
<circle cx="257.4" cy="213.4" r="1.4" stroke="#e3393a" stroke-width="0.75" fill="#fff"/>
<circle cx="257.4" cy="213.4" r="1.4" stroke="none" fill="#e3393a" fill-opacity="0.28"/>
<path d="M315 278.4L322.3 278.9M315 278.4L323 271.5M315 278.4L321.7 286.4M321.7 286.4L329 286.9M321.7 286.4L322.3 278.9M321.7 286.4L328.3 294.4M322.3 278.9L329.7 279.5M322.3 278.9L323 271.5M323 271.5L330.3 272M323 271.5L331 264.5M328.3 294.4L335.6 294.9M328.3 294.4L329 286.9M328.3 294.4L335 302.4M329 286.9L336.3 287.5M329 286.9L329.7 279.5M329.7 279.5L337 280M329.7 279.5L330.3 272M330.3 272L337.7 272.5M330.3 272L331 264.5M331 264.5L338.3 265M331 264.5L339 257.6M335 302.4L335.6 294.9M335.6 294.9L336.3 287.5M336.3 287.5L337 280M337 280L337.7 272.5M337.7 272.5L338.3 265M338.3 265L339 257.6" stroke="#888" stroke-width="0.75"/>
<use href="#pl-e" transform="translate(315,278.4) rotate(90)" fill="#222" stroke="#222" stroke-width="0.35" stroke-linejoin="round"/>
<use href="#pl-e" transform="translate(321.7,286.4) rotate(90)" fill="#222" stroke="#222" stroke-width="0.35" stroke-linejoin="round"/>
<use href="#pl-e" transform="translate(322.3,278.9) rotate(90)" fill="#222" stroke="#222" stroke-width="0.35" stroke-linejoin="round"/>
<use href="#pl-e" transform="translate(323,271.5) rotate(90)" fill="#222" stroke="#222" stroke-width="0.35" stroke-linejoin="round"/>
<use href="#pl-e" transform="translate(328.3,294.4) rotate(90)" fill="#222" stroke="#222" stroke-width="0.35" stroke-linejoin="round"/>
<use href="#pl-e" transform="translate(329,286.9) rotate(90)" fill="#222" stroke="#222" stroke-width="0.35" stroke-linejoin="round"/>
<use href="#pl-e" transform="translate(329.7,279.5) rotate(90)" fill="#222" stroke="#222" stroke-width="0.35" stroke-linejoin="round"/>
<use href="#pl-e" transform="translate(330.3,272) rotate(90)" fill="#222" stroke="#222" stroke-width="0.35" stroke-linejoin="round"/>
<use href="#pl-e" transform="translate(331,264.5) rotate(90)" fill="#222" stroke="#222" stroke-width="0.35" stroke-linejoin="round"/>
<use href="#pl-e" transform="translate(335,302.4) rotate(90)" fill="#222" stroke="#222" stroke-width="0.35" stroke-linejoin="round"/>
<use href="#pl-e" transform="translate(335.6,294.9) rotate(90)" fill="#222" stroke="#222" stroke-width="0.35" stroke-linejoin="round"/>
<use href="#pl-e" transform="translate(336.3,287.5) rotate(90)" fill="#222" stroke="#222" stroke-width="0.35" stroke-linejoin="round"/>
<use href="#pl-e" transform="translate(337,280) rotate(90)" fill="#222" stroke="#222" stroke-width="0.35" stroke-linejoin="round"/>
<use href="#pl-e" transform="translate(337.7,272.5) rotate(90)" fill="#222" stroke="#222" stroke-width="0.35" stroke-linejoin="round"/>
<use href="#pl-e" transform="translate(338.3,265) rotate(90)" fill="#222" stroke="#222" stroke-width="0.35" stroke-linejoin="round"/>
<use href="#pl-e" transform="translate(339,257.6) rotate(90)" fill="#222" stroke="#222" stroke-width="0.35" stroke-linejoin="round"/>
</g>
<g font-family="'Liberation Sans', sans-serif" font-size="6.7" font-weight="normal" fill="#2a2a2a" stroke="#2a2a2a" stroke-width="0.3" text-anchor="middle">
<text x="219" y="325.9">-3200</text>
<text x="238.5" y="325.9">-3100</text>
<text x="258" y="325.9">-3000</text>
<text x="277.6" y="325.9">-2900</text>
<text x="296.8" y="325.9">-2800</text>
<text x="317" y="325.9">-2700</text>
<text x="336.3" y="325.9">-2600</text>
<text x="356" y="325.9">-2500</text>
</g>
<g font-family="'Liberation Sans', sans-serif" font-weight="bold" font-size="7.8" fill="#2a2a2a" text-anchor="end">
<text x="211.8" y="220">100</text>
<text x="211.8" y="237.1">0</text>
<text x="211.8" y="257.6">-100</text>
<text x="211.8" y="276">-200</text>
<text x="211.8" y="294.8">-300</text>
<text x="211.8" y="311.4">-400</text>
</g>
<text x="291.3" y="335.6" font-family="'Liberation Serif', serif" font-weight="normal" font-size="8" fill="#222" stroke="#222" stroke-width="0.3" text-anchor="middle">X(m)</text>
<text transform="translate(194,259.5) rotate(-90)" font-family="'Liberation Serif', serif" font-weight="normal" font-size="8" fill="#222" stroke="#222" stroke-width="0.3" text-anchor="middle">Y(m)</text>
<text x="286" y="363.3" font-family="'Liberation Serif', serif" font-size="13.9" fill="#111" stroke="#111" stroke-width="0.25" text-anchor="middle">(e) t=470.79s</text>
</g>
<g id="panel-f">
<clipPath id="clip-f"><rect x="392.9" y="196.3" width="146.1" height="122.2"/></clipPath>
<rect x="395.4" y="198.8" width="141.1" height="117.2" fill="none" stroke="#d6d6d6" stroke-width="0.9"/>
<path d="M398.2 316v-1.6M398.2 198.8v1.6M417.8 316v-1.6M417.8 198.8v1.6M437.3 316v-1.6M437.3 198.8v1.6M457 316v-1.6M457 198.8v1.6M476.8 316v-1.6M476.8 198.8v1.6M496.3 316v-1.6M496.3 198.8v1.6M515.8 316v-1.6M515.8 198.8v1.6M395.4 215h1.6M536.5 215h-1.6M395.4 232.3h1.6M536.5 232.3h-1.6M395.4 252.5h1.6M536.5 252.5h-1.6M395.4 270.6h1.6M536.5 270.6h-1.6M395.4 289h1.6M536.5 289h-1.6M395.4 305.6h1.6M536.5 305.6h-1.6" stroke="#c4c4c4" stroke-width="0.7" fill="none"/>
<g clip-path="url(#clip-f)" fill="none" stroke-width="1.15" stroke-linecap="round">
<defs><path id="lp-f" d="M413 233.6A17.2 17.2 0 0 0 397.3 243.7A17.2 17.2 0 0 0 400 262.1A17.2 17.2 0 0 0 417.9 267.3L490.7 245.5A17.1 17.1 0 0 1 509.8 252.3A17.1 17.1 0 0 1 509 272.5A17.1 17.1 0 0 1 489.4 277.8A17.1 17.1 0 0 1 478.5 260.7"/><path id="pl-f" d="M0 1.6L0.4 0.5L1.4 -0.1L1.4 -0.5L0.3 -0.3L0.3 -1.1L0.7 -1.4L0.7 -1.6L0 -1.5L-0.7 -1.6L-0.7 -1.4L-0.3 -1.1L-0.3 -0.3L-1.4 -0.5L-1.4 -0.1L-0.4 0.5Z"/></defs>
<use href="#lp-f" x="0" y="0" stroke="#50e650"/>
<use href="#lp-f" x="6.7" y="7.8" stroke="#5cdb4d"/>
<use href="#lp-f" x="7.3" y="0.5" stroke="#69d14a"/>
<use href="#lp-f" x="8" y="-6.9" stroke="#76c648"/>
<use href="#lp-f" x="13.3" y="15.6" stroke="#82bc45"/>
<use href="#lp-f" x="14" y="8.3" stroke="#8fb242"/>
<use href="#lp-f" x="14.7" y="0.9" stroke="#9ca740"/>
<use href="#lp-f" x="15.3" y="-6.4" stroke="#a89d3d"/>
<use href="#lp-f" x="16" y="-13.7" stroke="#b2913b"/>
<use href="#lp-f" x="20" y="23.4" stroke="#b9853b"/>
<use href="#lp-f" x="20.7" y="16.1" stroke="#c0783b"/>
<use href="#lp-f" x="21.3" y="8.7" stroke="#c76b3b"/>
<use href="#lp-f" x="22" y="1.4" stroke="#ce5f3a"/>
<use href="#lp-f" x="22.7" y="-5.9" stroke="#d5523a"/>
<use href="#lp-f" x="23.3" y="-13.2" stroke="#dc453a"/>
<use href="#lp-f" x="24" y="-20.6" stroke="#e3393a"/>
<circle cx="426.3" cy="249.2" r="1.4" stroke="#82bc45" stroke-width="0.75" fill="#fff"/>
<circle cx="426.3" cy="249.2" r="1.4" stroke="none" fill="#82bc45" fill-opacity="0.28"/>
<circle cx="427" cy="241.9" r="1.4" stroke="#8fb242" stroke-width="0.75" fill="#fff"/>
<circle cx="427" cy="241.9" r="1.4" stroke="none" fill="#8fb242" fill-opacity="0.28"/>
<circle cx="427.7" cy="234.5" r="1.4" stroke="#9ca740" stroke-width="0.75" fill="#fff"/>
<circle cx="427.7" cy="234.5" r="1.4" stroke="none" fill="#9ca740" fill-opacity="0.28"/>
<circle cx="428.3" cy="227.2" r="1.4" stroke="#a89d3d" stroke-width="0.75" fill="#fff"/>
<circle cx="428.3" cy="227.2" r="1.4" stroke="none" fill="#a89d3d" fill-opacity="0.28"/>
<circle cx="429" cy="219.9" r="1.4" stroke="#b2913b" stroke-width="0.75" fill="#fff"/>
<circle cx="429" cy="219.9" r="1.4" stroke="none" fill="#b2913b" fill-opacity="0.28"/>
<circle cx="433" cy="257" r="1.4" stroke="#b9853b" stroke-width="0.75" fill="#fff"/>
<circle cx="433" cy="257" r="1.4" stroke="none" fill="#b9853b" fill-opacity="0.28"/>
<circle cx="433.6" cy="249.7" r="1.4" stroke="#c0783b" stroke-width="0.75" fill="#fff"/>
<circle cx="433.6" cy="249.7" r="1.4" stroke="none" fill="#c0783b" fill-opacity="0.28"/>
<circle cx="434.3" cy="242.3" r="1.4" stroke="#c76b3b" stroke-width="0.75" fill="#fff"/>
<circle cx="434.3" cy="242.3" r="1.4" stroke="none" fill="#c76b3b" fill-opacity="0.28"/>
<circle cx="435" cy="235" r="1.4" stroke="#ce5f3a" stroke-width="0.75" fill="#fff"/>
<circle cx="435" cy="235" r="1.4" stroke="none" fill="#ce5f3a" fill-opacity="0.28"/>
<circle cx="435.7" cy="227.7" r="1.4" stroke="#d5523a" stroke-width="0.75" fill="#fff"/>
<circle cx="435.7" cy="227.7" r="1.4" stroke="none" fill="#d5523a" fill-opacity="0.28"/>
<circle cx="436.3" cy="220.4" r="1.4" stroke="#dc453a" stroke-width="0.75" fill="#fff"/>
<circle cx="436.3" cy="220.4" r="1.4" stroke="none" fill="#dc453a" fill-opacity="0.28"/>
<circle cx="437" cy="213" r="1.4" stroke="#e3393a" stroke-width="0.75" fill="#fff"/>
<circle cx="437" cy="213" r="1.4" stroke="none" fill="#e3393a" fill-opacity="0.28"/>
<path d="M478.5 260.7L485.9 261.1M478.5 260.7L486.5 253.8M478.5 260.7L485.2 268.5M485.2 268.5L492.5 268.9M485.2 268.5L485.9 261.1M485.2 268.5L491.9 276.3M485.9 261.1L493.2 261.6M485.9 261.1L486.5 253.8M486.5 253.8L493.9 254.3M486.5 253.8L494.5 246.9M491.9 276.3L499.2 276.7M491.9 276.3L492.5 268.9M491.9 276.3L498.5 284.1M492.5 268.9L499.9 269.4M492.5 268.9L493.2 261.6M493.2 261.6L500.5 262.1M493.2 261.6L493.9 254.3M493.9 254.3L501.2 254.7M493.9 254.3L494.5 246.9M494.5 246.9L501.9 247.4M494.5 246.9L502.5 240.1M498.5 284.1L499.2 276.7M499.2 276.7L499.9 269.4M499.9 269.4L500.5 262.1M500.5 262.1L501.2 254.7M501.2 254.7L501.9 247.4M501.9 247.4L502.5 240.1" stroke="#888" stroke-width="0.75"/>
<use href="#pl-f" transform="translate(478.5,260.7) rotate(-176)" fill="#222" stroke="#222" stroke-width="0.35" stroke-linejoin="round"/>
<use href="#pl-f" transform="translate(485.2,268.5) rotate(-176)" fill="#222" stroke="#222" stroke-width="0.35" stroke-linejoin="round"/>
<use href="#pl-f" transform="translate(485.9,261.1) rotate(-176)" fill="#222" stroke="#222" stroke-width="0.35" stroke-linejoin="round"/>
<use href="#pl-f" transform="translate(486.5,253.8) rotate(-176)" fill="#222" stroke="#222" stroke-width="0.35" stroke-linejoin="round"/>
<use href="#pl-f" transform="translate(491.9,276.3) rotate(-176)" fill="#222" stroke="#222" stroke-width="0.35" stroke-linejoin="round"/>
<use href="#pl-f" transform="translate(492.5,268.9) rotate(-176)" fill="#222" stroke="#222" stroke-width="0.35" stroke-linejoin="round"/>
<use href="#pl-f" transform="translate(493.2,261.6) rotate(-176)" fill="#222" stroke="#222" stroke-width="0.35" stroke-linejoin="round"/>
<use href="#pl-f" transform="translate(493.9,254.3) rotate(-176)" fill="#222" stroke="#222" stroke-width="0.35" stroke-linejoin="round"/>
<use href="#pl-f" transform="translate(494.5,246.9) rotate(-176)" fill="#222" stroke="#222" stroke-width="0.35" stroke-linejoin="round"/>
<use href="#pl-f" transform="translate(498.5,284.1) rotate(-176)" fill="#222" stroke="#222" stroke-width="0.35" stroke-linejoin="round"/>
<use href="#pl-f" transform="translate(499.2,276.7) rotate(-176)" fill="#222" stroke="#222" stroke-width="0.35" stroke-linejoin="round"/>
<use href="#pl-f" transform="translate(499.9,269.4) rotate(-176)" fill="#222" stroke="#222" stroke-width="0.35" stroke-linejoin="round"/>
<use href="#pl-f" transform="translate(500.5,262.1) rotate(-176)" fill="#222" stroke="#222" stroke-width="0.35" stroke-linejoin="round"/>
<use href="#pl-f" transform="translate(501.2,254.7) rotate(-176)" fill="#222" stroke="#222" stroke-width="0.35" stroke-linejoin="round"/>
<use href="#pl-f" transform="translate(501.9,247.4) rotate(-176)" fill="#222" stroke="#222" stroke-width="0.35" stroke-linejoin="round"/>
<use href="#pl-f" transform="translate(502.5,240.1) rotate(-176)" fill="#222" stroke="#222" stroke-width="0.35" stroke-linejoin="round"/>
</g>
<g font-family="'Liberation Sans', sans-serif" font-size="6.7" font-weight="normal" fill="#2a2a2a" stroke="#2a2a2a" stroke-width="0.3" text-anchor="middle">
<text x="399" y="324">-3200</text>
<text x="418.6" y="324">-3100</text>
<text x="438.1" y="324">-3000</text>
<text x="457.8" y="324">-2900</text>
<text x="477.6" y="324">-2800</text>
<text x="497.1" y="324">-2700</text>
<text x="516.6" y="324">-2600</text>
<text x="536.4" y="324">-2500</text>
</g>
<g font-family="'Liberation Sans', sans-serif" font-weight="bold" font-size="7.8" fill="#2a2a2a" text-anchor="end">
<text x="391.6" y="218.8">100</text>
<text x="391.6" y="236.1">0</text>
<text x="391.6" y="256.3">-100</text>
<text x="391.6" y="274.4">-200</text>
<text x="391.6" y="292.8">-300</text>
<text x="391.6" y="309.4">-400</text>
</g>
<text x="471.6" y="334.4" font-family="'Liberation Serif', serif" font-weight="normal" font-size="8" fill="#222" stroke="#222" stroke-width="0.3" text-anchor="middle">X(m)</text>
<text transform="translate(374.4,258.5) rotate(-90)" font-family="'Liberation Serif', serif" font-weight="normal" font-size="8" fill="#222" stroke="#222" stroke-width="0.3" text-anchor="middle">Y(m)</text>
<text x="462.8" y="363.3" font-family="'Liberation Serif', serif" font-size="13.9" fill="#111" stroke="#111" stroke-width="0.25" text-anchor="middle">(f) t=489.29s</text>
</g>
</svg>
</body></html>
